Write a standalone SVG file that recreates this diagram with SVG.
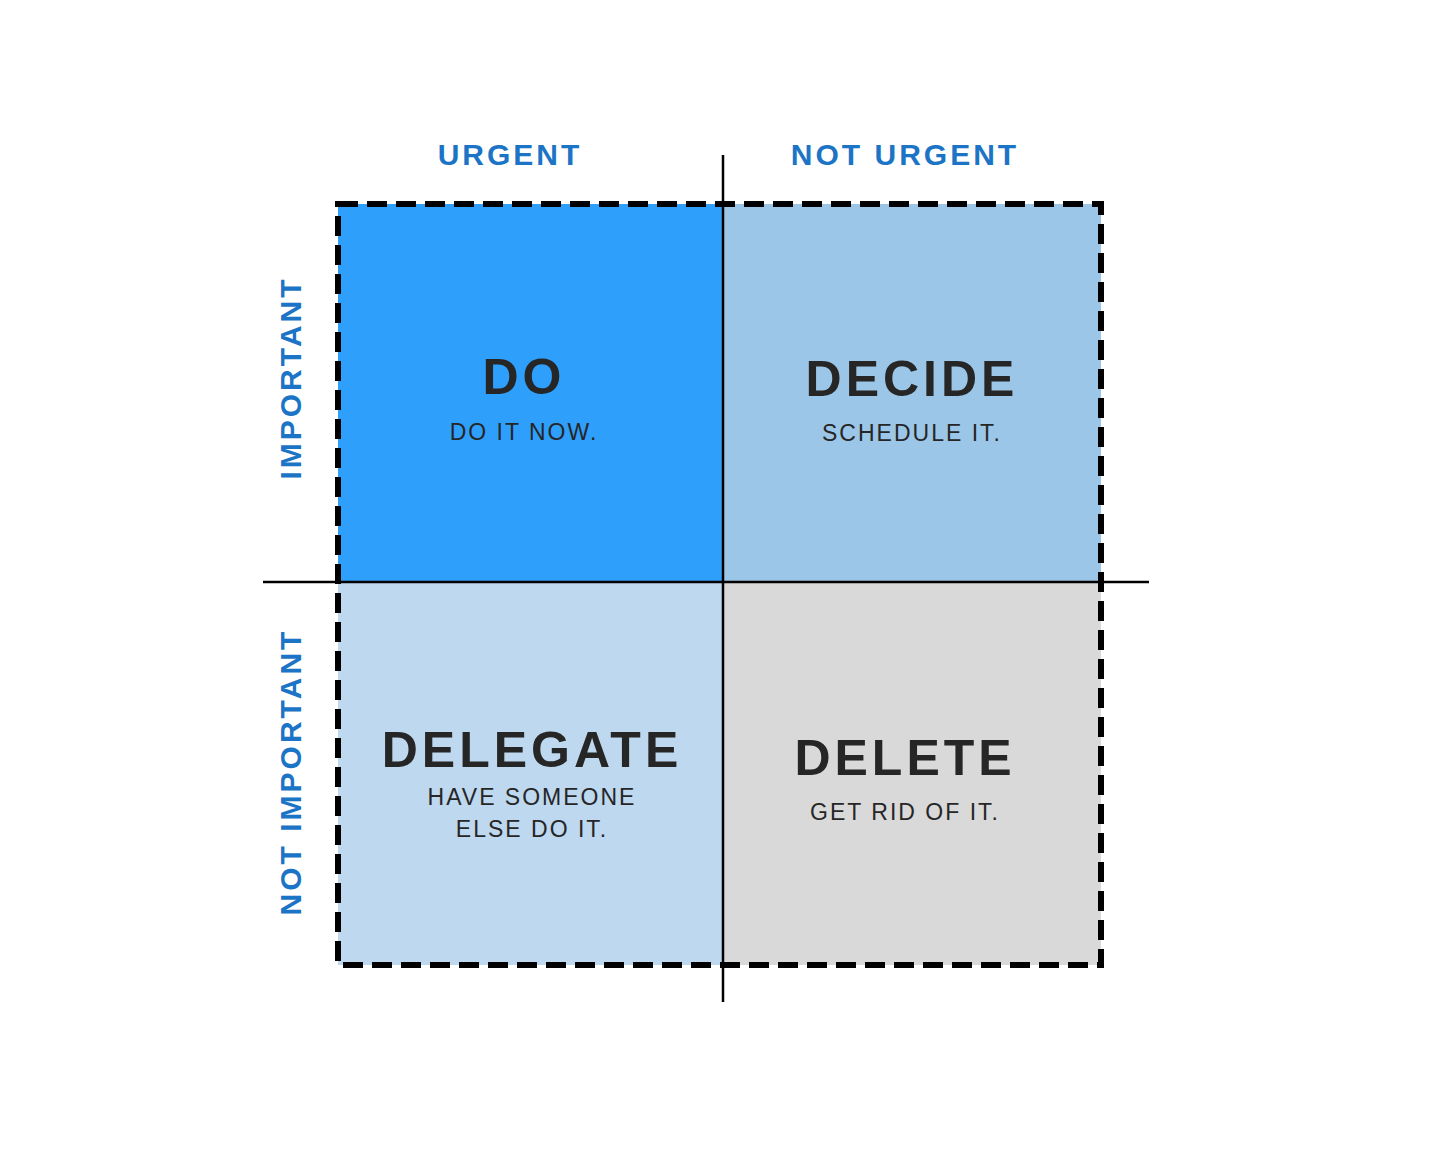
<svg xmlns="http://www.w3.org/2000/svg" width="1440" height="1152" viewBox="0 0 1440 1152">
<style>
.axis{font-family:"Liberation Sans",Arial,sans-serif;font-weight:bold;font-size:30px;fill:#1b74c5;letter-spacing:3px;text-anchor:middle}
.title{font-family:"Liberation Sans",Arial,sans-serif;font-weight:bold;font-size:50px;fill:#262626;letter-spacing:4px;text-anchor:middle}
.sub{font-family:"Liberation Sans",Arial,sans-serif;font-size:23px;fill:#262626;letter-spacing:2px;text-anchor:middle}
.line{stroke:#000;stroke-width:2.5}
</style>
<rect width="1440" height="1152" fill="#fff"/>
<g id="do"><rect x="338" y="204" width="385" height="378" fill="#2f9ffc"/><text class="title" x="524" y="394">DO</text><text class="sub" x="524" y="440">DO IT NOW.</text></g>
<g id="decide"><rect x="723" y="204" width="378" height="378" fill="#9bc6e8"/><text class="title" x="912" y="396">DECIDE</text><text class="sub" x="912" y="441">SCHEDULE IT.</text></g>
<g id="delegate"><rect x="338" y="582" width="385" height="383" fill="#bdd8ef"/><text class="title" x="532" y="767">DELEGATE</text><text class="sub" x="532" y="805">HAVE SOMEONE</text><text class="sub" x="532" y="837">ELSE DO IT.</text></g>
<g id="delete"><rect x="723" y="582" width="378" height="383" fill="#d9d9d9"/><text class="title" x="905" y="775">DELETE</text><text class="sub" x="905" y="820">GET RID OF IT.</text></g>
<g id="connectors">
<rect x="338" y="204" width="763" height="761" fill="none" stroke="#000" stroke-width="6" stroke-dasharray="20 9"/>
<line class="line" x1="723" y1="155" x2="723" y2="1002"/>
<line class="line" x1="263" y1="582" x2="1149" y2="582"/>
</g>
<g id="labels">
<text class="axis" x="510" y="165">URGENT</text>
<text class="axis" x="905" y="165">NOT URGENT</text>
<text class="axis" transform="translate(301,378) rotate(-90)">IMPORTANT</text>
<text class="axis" transform="translate(301,772) rotate(-90)">NOT IMPORTANT</text>
</g>
</svg>
